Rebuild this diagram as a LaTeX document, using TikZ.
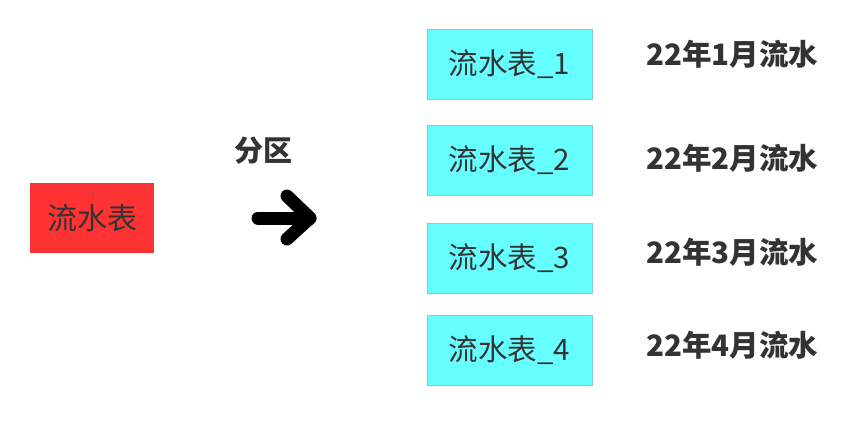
\documentclass[tikz,border=0pt]{standalone}
\usepackage{fontspec}
\setmainfont{Noto Sans CJK SC}
\usepackage{xcolor}
\usetikzlibrary{positioning}

\definecolor{tablered}{HTML}{FF3333}
\definecolor{partcyan}{HTML}{66FFFF}
\definecolor{partline}{HTML}{7FCFD6}
\definecolor{textgray}{HTML}{333333}

\tikzset{
    mainbox/.style={fill=tablered, draw=none, minimum width=124pt, minimum height=70pt,
        text=textgray, font=\fontsize{30}{36}\selectfont},
    partbox/.style={fill=partcyan, draw=partline, line width=0.8pt, minimum width=165pt,
        minimum height=70pt, text=textgray, font=\fontsize{29.5}{36}\selectfont},
    monthlabel/.style={text=textgray, font=\fontsize{29.5}{36}\selectfont\bfseries, anchor=west},
    bigarrow/.style={line width=13pt, line cap=round, line join=round}
}

\begin{document}
\begin{tikzpicture}[x=1pt, y=-1pt]
    \useasboundingbox (0, 0) rectangle (857, 431);

    \node[mainbox] (table) at (92, 218) {流水表};

    \node[text=textgray, font=\fontsize{29}{36}\selectfont\bfseries] (split) at (263, 151) {分区};

    \coordinate (shaftstart) at (258, 218);
    \coordinate (tip) at (310, 218);
    \coordinate (wingtop) at (287, 196);
    \coordinate (wingbot) at (287, 239);
    \draw[bigarrow] (shaftstart) -- (tip);
    \draw[bigarrow] (wingtop) -- (tip) -- (wingbot);

    \node[partbox] (part1) at (509.5, 64) {流水表\_1};
    \node[partbox] (part2) at (509.5, 160) {流水表\_2};
    \node[partbox] (part3) at (509.5, 258) {流水表\_3};
    \node[partbox] (part4) at (509.5, 350) {流水表\_4};

    \node[monthlabel] (month1) at (643, 54) {22年1月流水};
    \node[monthlabel] (month2) at (643, 158) {22年2月流水};
    \node[monthlabel] (month3) at (643, 252) {22年3月流水};
    \node[monthlabel] (month4) at (643, 345) {22年4月流水};
\end{tikzpicture}
\end{document}
